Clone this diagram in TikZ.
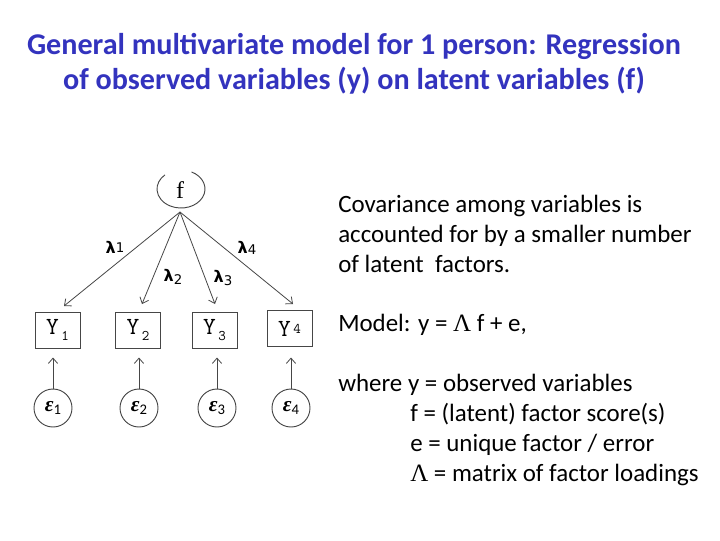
\documentclass[tikz,border=0pt]{standalone}
\usepackage{fontspec}
\usepackage{bm}
\setmainfont{Carlito}
\newfontfamily\serifLS{Liberation Serif}
\newfontfamily\dvs{DejaVu Sans}
\usetikzlibrary{arrows.meta,calc}
\definecolor{titleblue}{RGB}{51,51,190}
\definecolor{linegray}{RGB}{70,70,70}
\newcommand{\eps}[1]{{\serifLS\bfseries\itshape\fontsize{16}{16}\selectfont ε}\raisebox{-0.5ex}{\fontsize{11}{11}\selectfont #1}}
\newcommand{\obsy}[2]{Y\raisebox{#2}{\fontsize{11}{11}\selectfont\,#1}}
\newcommand{\lamb}[2]{λ\raisebox{#2}{\dvs\mdseries\fontsize{10}{10}\selectfont #1}}
\tikzset{
  every picture/.style={x=0.75pt,y=-0.75pt},
  obsbox/.style={draw=linegray,line width=0.7pt,minimum width=33.75pt,minimum height=27pt,inner sep=0pt,font=\ttfamily\fontsize{18.5}{18.5}\selectfont},
  errnode/.style={draw=linegray,line width=0.7pt,circle,minimum size=28.5pt,inner sep=0pt},
  loadarrow/.style={draw=linegray,line width=0.6pt,-{Straight Barb[length=4pt,width=7pt]}},
  lam/.style={font=\dvs\bfseries\fontsize{12}{12}\selectfont,inner sep=0pt},
  body/.style={anchor=base west,inner sep=0pt,font=\fontsize{18.7}{18.7}\selectfont},
  ttl/.style={anchor=base,inner sep=0pt,text=titleblue,font=\bfseries\fontsize{22.6}{22.6}\selectfont}
}
\begin{document}
\begin{tikzpicture}
\useasboundingbox (0,0) rectangle (720,540);
% title
\node[ttl] (t1) at (354,54) {General multivariate model for 1 person: Regression};
\node[ttl] (t2) at (354,89) {of observed variables (y) on latent variables (f)};
% latent factor
\coordinate (fc) at (181,189);
\draw[linegray,line width=0.7pt] ($(fc)+(-64:24 and 19)$) arc[start angle=-64,end angle=228,x radius=24,y radius=19];
\node[inner sep=0pt,font=\serifLS\fontsize{18}{18}\selectfont] (f) at (180,190) {f};
\coordinate (fo) at (180,212);
% observed
\node[obsbox] (y1) at (57.5,330) {\obsy{1}{-0.5ex}};
\node[obsbox] (y2) at (138,330) {\obsy{2}{-0.5ex}};
\node[obsbox] (y3) at (214.5,330) {\obsy{3}{-0.5ex}};
\node[obsbox] (y4) at (289.5,328.5) {\obsy{4}{0.2ex}};
% errors
\node[errnode] (e1) at (53,408) {\eps{1}};
\node[errnode] (e2) at (139,408) {\eps{2}};
\node[errnode] (e3) at (217,408) {\eps{3}};
\node[errnode] (e4) at (291,408) {\eps{4}};
% loadings
\coordinate (a1) at (64,306);
\coordinate (a2) at (142,304);
\coordinate (a3) at (215,304);
\coordinate (a4) at (293,304);
\draw[loadarrow] (fo) -- (a1);
\draw[loadarrow] (fo) -- (a2);
\draw[loadarrow] (fo) -- (a3);
\draw[loadarrow] (fo) -- (a4);
\node[lam] (l1) at (115,247) {\lamb{1}{0.1ex}};
\node[lam] (l2) at (173,277) {\lamb{2}{-0.3ex}};
\node[lam] (l3) at (223,278) {\lamb{3}{-0.4ex}};
\node[lam] (l4) at (247,248) {\lamb{4}{-0.2ex}};
% error arrows
\draw[loadarrow] (e1.north) -- ++(0,-31);
\draw[loadarrow] (e2.north) -- ++(0,-31);
\draw[loadarrow] (e3.north) -- ++(0,-31);
\draw[loadarrow] (e4.north) -- ++(0,-31);
% text
\node[body] (b1) at (338,212) {Covariance among variables is};
\node[body] (b2) at (338,242) {accounted for by a smaller number};
\node[body] (b3) at (338,272) {of latent\ \ factors.};
\node[body] (b4) at (338,331) {Model: y = {\serifLS Λ} f + e,};
\node[body] (b5) at (338,391) {where y = observed variables};
\node[body] (b6) at (410,421) {f = (latent) factor score(s)};
\node[body] (b7) at (410,451) {e = unique factor / error};
\node[body] (b8) at (410,481) {{\serifLS Λ} = matrix of factor loadings};
\end{tikzpicture}
\end{document}
